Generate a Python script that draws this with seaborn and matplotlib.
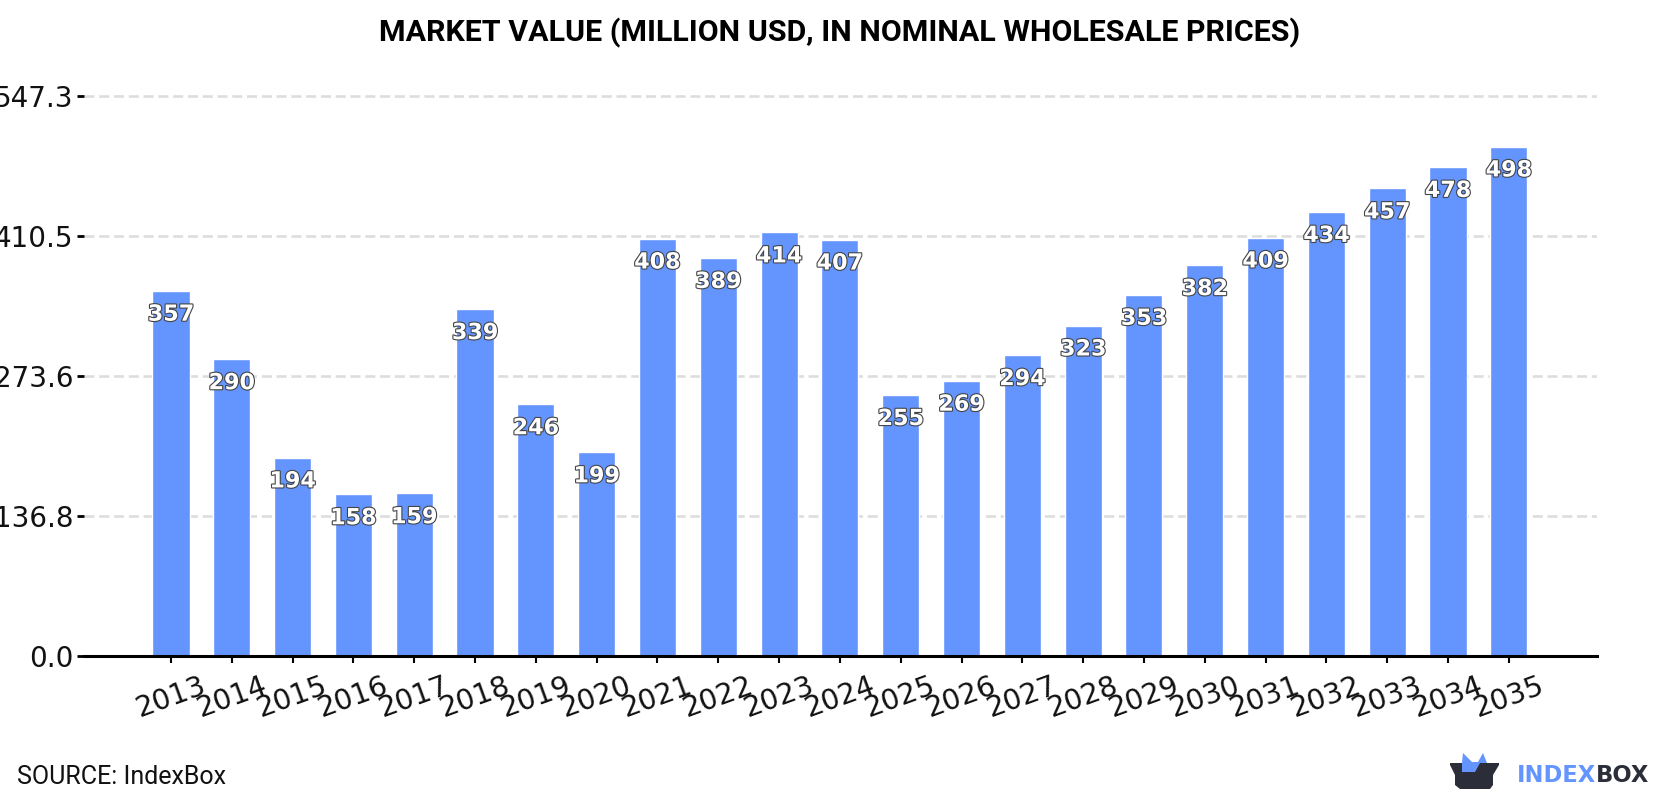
import matplotlib
matplotlib.use("Agg")
import matplotlib.pyplot as plt
import matplotlib.patheffects as pe
from matplotlib.patches import Polygon
import seaborn as sns

years = list(range(2013, 2036))
values = [357, 290, 194, 158, 159, 339, 246, 199, 408, 389, 414, 407,
          255, 269, 294, 323, 353, 382, 409, 434, 457, 478, 498]
y_ticks = [0.0, 136.8, 273.6, 410.5, 547.3]
title = "MARKET VALUE (MILLION USD, IN NOMINAL WHOLESALE PRICES)"
source = "SOURCE: IndexBox"

BAR_BLUE = "#6495FF"
DARK = "#2B2D38"
W, H = 1680, 800

sns.set_theme(style="white")
plt.rcParams["font.family"] = "DejaVu Sans"

fig = plt.figure(figsize=(W / 100, H / 100), dpi=100, facecolor="white")
ax = fig.add_axes([84 / W, 1 - 656 / H, (1597 - 84) / W, (656 - 66) / H])

sns.barplot(x=years, y=values, color=BAR_BLUE, saturation=1, width=0.61, ax=ax, zorder=2)

ax.set_xlim(-1.43, 23.45)
ax.set_ylim(0, 590 / 1.023)
ax.set_yticks(y_ticks)
ax.set_yticklabels([f"{v:.1f}" for v in y_ticks], fontsize=20, color="#111111")
ax.yaxis.grid(True, color="#DDDDDD", linestyle=(0, (3.8, 1.8)), linewidth=1.9, zorder=0)
ax.set_axisbelow(True)
ax.tick_params(axis="y", left=True, length=5, width=2, color="black", pad=2.5)
ax.tick_params(axis="x", bottom=True, length=5, width=1.5, color="black", pad=6)
for lab in ax.get_xticklabels():
    lab.set_rotation(20)
    lab.set_fontsize(20.5)
    lab.set_color("#111111")
    lab.set_ha("center")

for side in ("top", "right", "left"):
    ax.spines[side].set_visible(False)
ax.spines["bottom"].set_color("black")
ax.spines["bottom"].set_linewidth(2.2)

# Value labels sit just under each bar's top edge
outline = [pe.withStroke(linewidth=1.6, foreground="#444444")]
for i, v in enumerate(values):
    ax.annotate(str(v), (i, v), xytext=(0, -17.2), textcoords="offset points",
                ha="center", va="center", fontsize=16, fontweight="bold",
                color="white", path_effects=outline, zorder=4)

fig.text(0.5, 1 - 32.5 / H, title, ha="center", va="center",
         family="Roboto", fontweight="bold", fontsize=21.9, color="black")
fig.text(17 / W, 1 - 777 / H, source, ha="left", va="center",
         family="Roboto", fontsize=18, color="#111111")


def to_fig(points):
    return [(x / W, 1 - y / H) for x, y in points]


# Brand mark: open box with a blue crown rising out of it
crown = [(1462, 763), (1463, 753), (1472, 762), (1478, 762), (1483, 753),
         (1487, 763), (1480, 763), (1475, 772), (1462, 772)]
box = [(1450, 763), (1499, 763), (1499, 765), (1493, 775), (1493, 785),
       (1490, 789), (1460, 789), (1455, 785), (1455, 775), (1450, 765)]
fig.add_artist(Polygon(to_fig(box), closed=True, transform=fig.transFigure,
                       facecolor=DARK, edgecolor="none", zorder=5))
fig.add_artist(Polygon(to_fig(crown), closed=True, transform=fig.transFigure,
                       facecolor=BAR_BLUE, edgecolor="none", zorder=6))
fig.text(1517 / W, 1 - 782 / H, "INDEX", ha="left", va="baseline", family="DejaVu Sans",
         fontweight="bold", fontsize=16.3, color=BAR_BLUE)
fig.text(1649 / W, 1 - 782 / H, "BOX", ha="right", va="baseline", family="DejaVu Sans",
         fontweight="bold", fontsize=16.3, color=DARK)

fig.savefig("out.png", dpi=100, facecolor="white")
